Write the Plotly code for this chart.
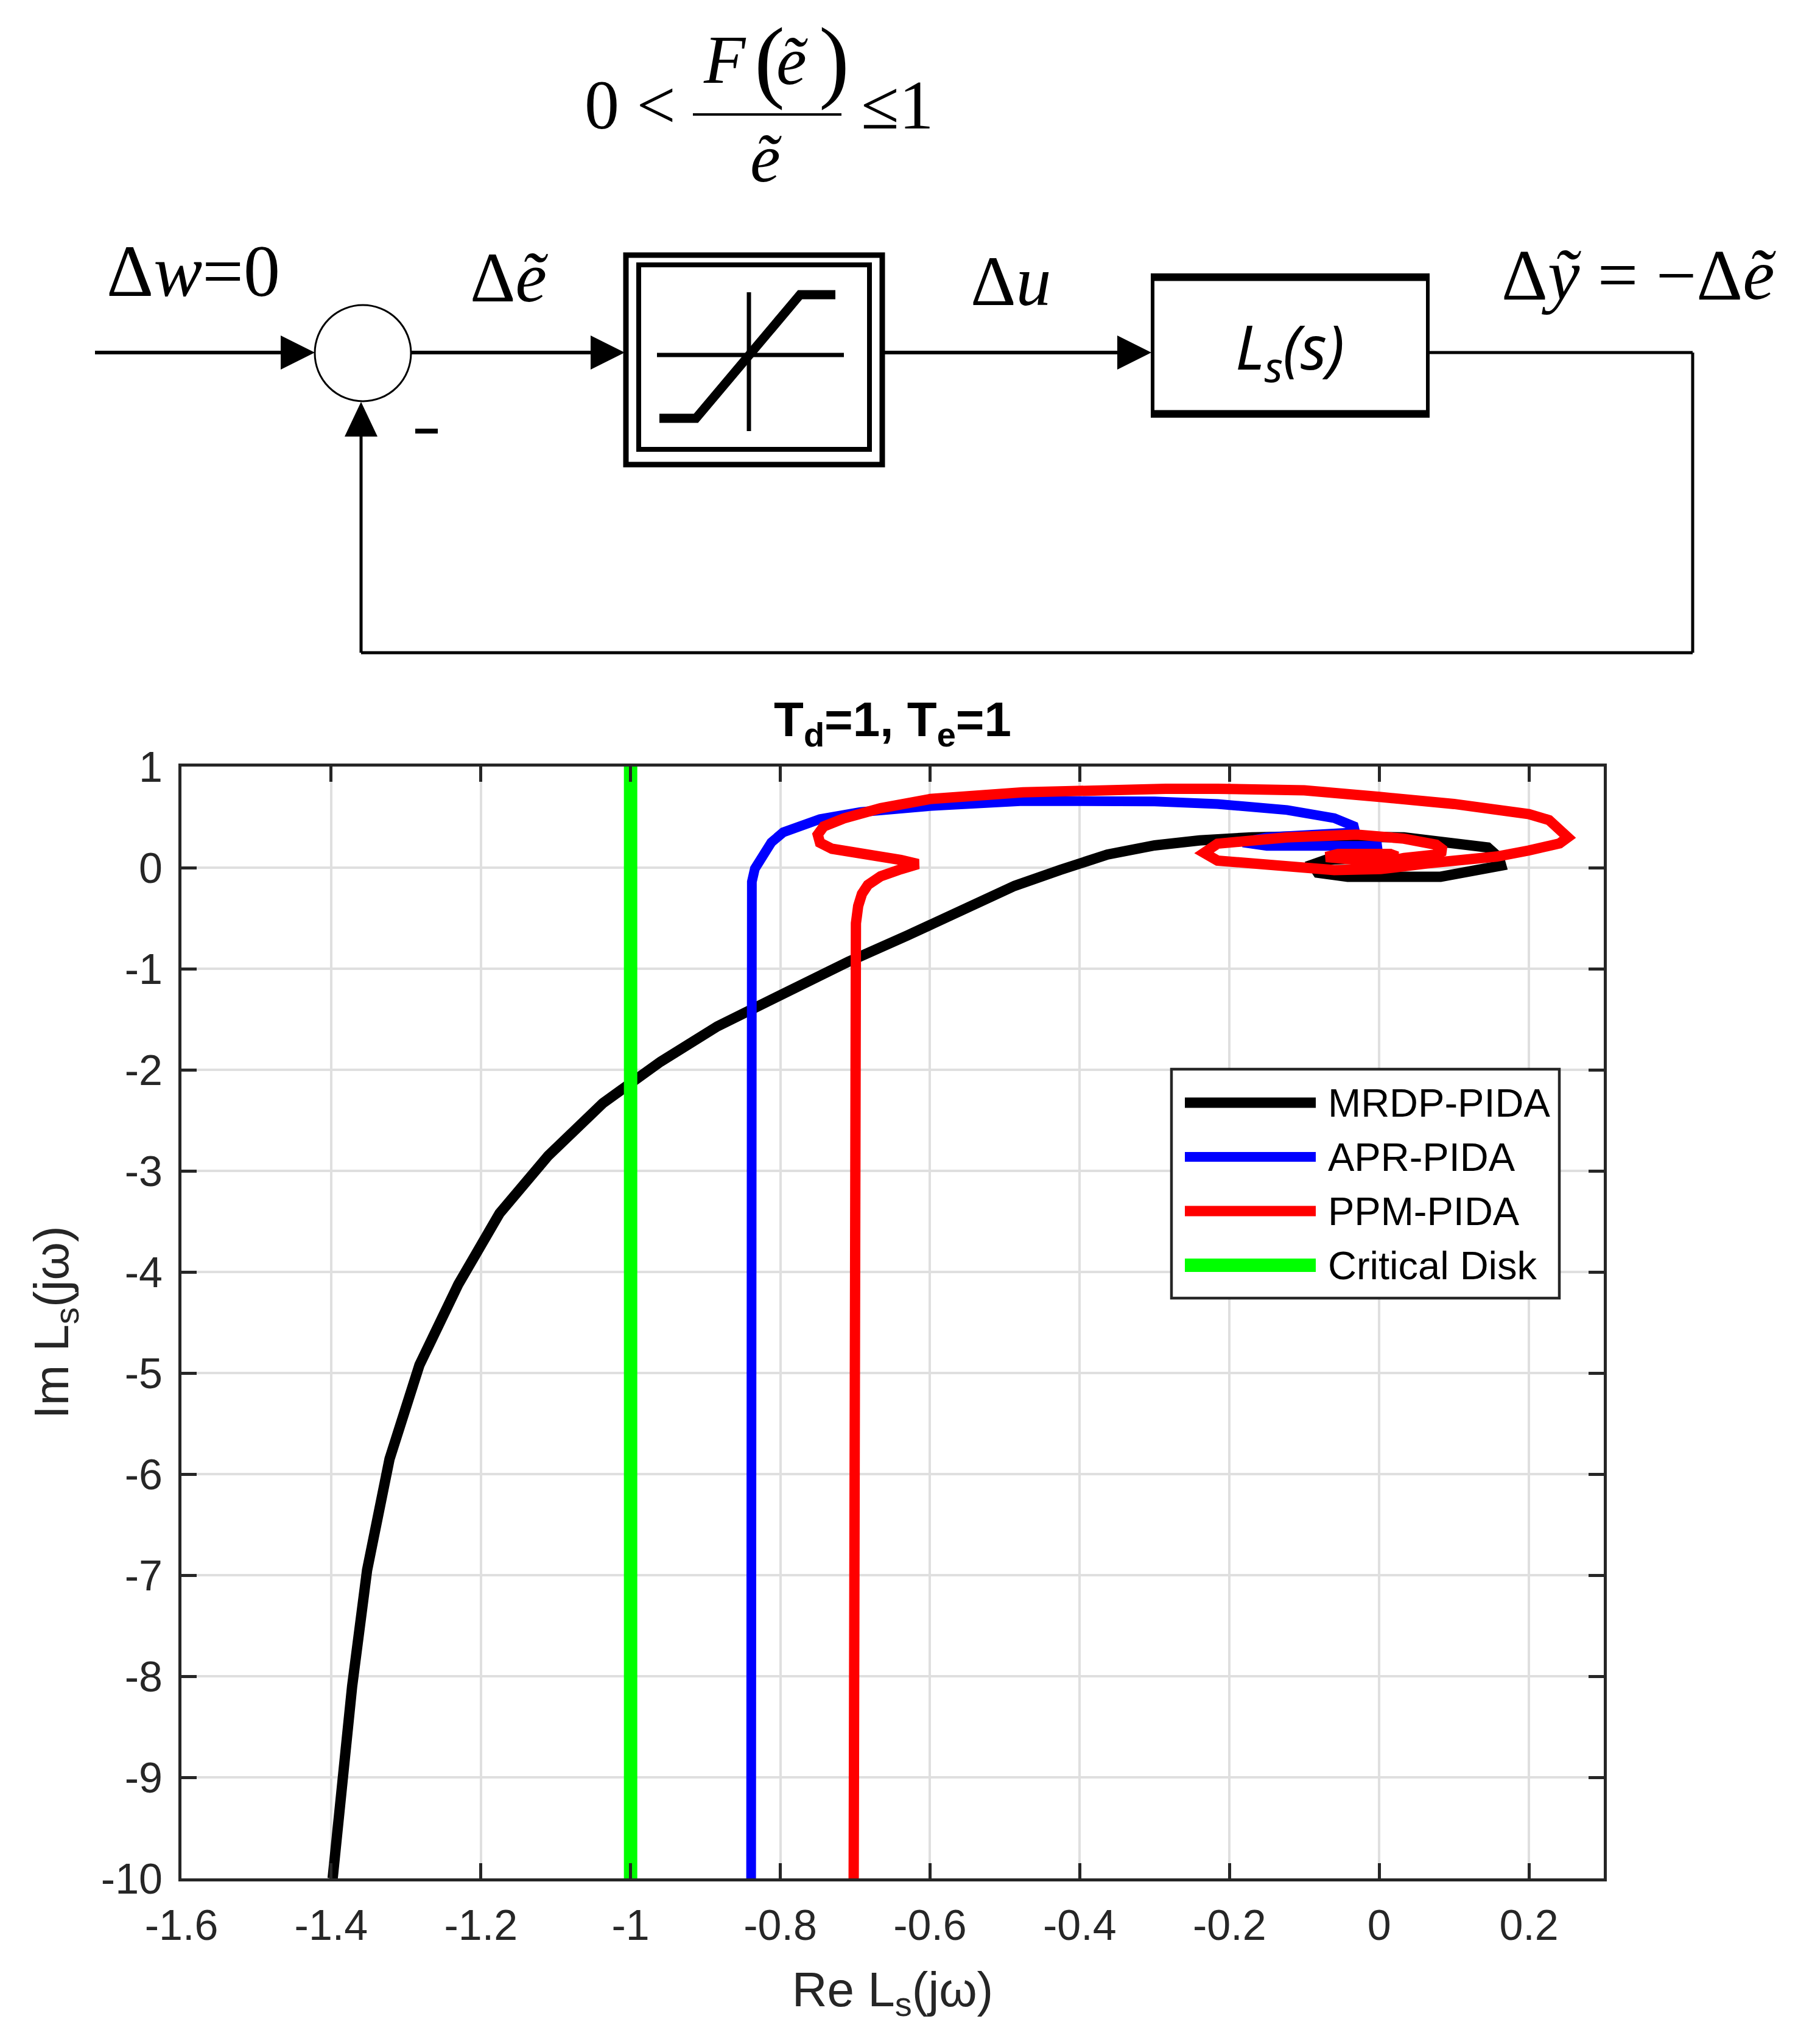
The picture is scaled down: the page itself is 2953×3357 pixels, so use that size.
import plotly.graph_objects as go

# Nyquist curves of L_s(jw) (Re, Im)
re_mrdp = [-1.398, -1.386, -1.372, -1.352, -1.322, -1.282, -1.230, -1.175, -1.110, -1.037,
           -0.960, -0.884, -0.800, -0.709, -0.630, -0.557, -0.487, -0.425, -0.363, -0.300,
           -0.240, -0.170, -0.100, 0.033, 0.145, 0.160, 0.163, 0.082, -0.042, -0.082,
           -0.089, -0.070, -0.020, 0.020, 0.030, 0.000]
im_mrdp = [-10.0, -9.0, -8.1, -6.95, -5.85, -4.92, -4.12, -3.42, -2.85, -2.33,
           -1.92, -1.57, -1.25, -0.93, -0.67, -0.42, -0.18, -0.02, 0.13, 0.22,
           0.27, 0.30, 0.31, 0.30, 0.20, 0.10, 0.02, -0.09, -0.09, -0.05,
           0.03, 0.08, 0.09, 0.07, 0.04, 0.02]

re_apr = [-0.839, -0.839, -0.839, -0.838, -0.834, -0.823, -0.812, -0.796, -0.774, -0.747,
          -0.693, -0.600, -0.476, -0.380, -0.300, -0.216, -0.123, -0.060, -0.034, -0.032,
          -0.080, -0.150, -0.182, -0.150, -0.080, -0.020, 0.003, -0.010, -0.050, -0.040,
          -0.020]
im_apr = [-10.0, -0.80, -0.32, -0.14, -0.01, 0.11, 0.25, 0.35, 0.41, 0.48,
          0.55, 0.61, 0.66, 0.665, 0.655, 0.63, 0.57, 0.49, 0.41, 0.35,
          0.325, 0.30, 0.25, 0.215, 0.215, 0.225, 0.215, 0.19, 0.18, 0.14,
          0.12]

re_ppm = [-0.702, -0.701, -0.700, -0.699, -0.696, -0.691, -0.683, -0.666, -0.639, -0.616,
          -0.639, -0.693, -0.731, -0.747, -0.750, -0.742, -0.715, -0.666, -0.600, -0.476,
          -0.380, -0.285, -0.216, -0.100, 0.000, 0.100, 0.200, 0.227, 0.252, 0.241,
          0.200, 0.157, 0.064, 0.002, -0.060, -0.138, -0.216, -0.234, -0.216, -0.123,
          -0.030, 0.033, 0.076, 0.087, 0.073, 0.033, 0.020, -0.020, -0.060, -0.071,
          -0.055, -0.020, 0.015, 0.024, 0.005, -0.030, -0.055, -0.050, -0.020, 0.005,
          0.000, -0.030, -0.040, -0.025, -0.010, -0.015, -0.030, -0.025, -0.020]
im_ppm = [-10.0, -2.0, -0.82, -0.55, -0.38, -0.26, -0.17, -0.085, -0.015, 0.036,
          0.076, 0.127, 0.187, 0.247, 0.327, 0.408, 0.488, 0.588, 0.679, 0.745,
          0.772, 0.78, 0.78, 0.765, 0.70, 0.63, 0.53, 0.47, 0.30, 0.24,
          0.17, 0.11, 0.042, -0.014, -0.024, 0.016, 0.07, 0.147, 0.237, 0.30,
          0.327, 0.287, 0.227, 0.167, 0.127, 0.096, 0.075, 0.07, 0.08, 0.105,
          0.135, 0.145, 0.135, 0.11, 0.088, 0.085, 0.10, 0.125, 0.13, 0.12,
          0.10, 0.098, 0.11, 0.118, 0.112, 0.10, 0.104, 0.112, 0.108]

re_crit = [-1.0, -1.0]
im_crit = [-10.0, 1.0]

series_re = [re_mrdp, re_apr, re_ppm, re_crit]
series_im = [im_mrdp, im_apr, im_ppm, im_crit]
series_names = ["MRDP-PIDA", "APR-PIDA", "PPM-PIDA", "Critical Disk"]
series_colors = ["#000000", "#0000ff", "#ff0000", "#00ff00"]
series_widths = [17, 16, 17, 22]

x_ticks = [-1.6, -1.4, -1.2, -1.0, -0.8, -0.6, -0.4, -0.2, 0.0, 0.2]
x_tick_labels = ["-1.6", "-1.4", "-1.2", "-1", "-0.8", "-0.6", "-0.4", "-0.2", "0", "0.2"]
y_ticks = [-10, -9, -8, -7, -6, -5, -4, -3, -2, -1, 0, 1]
y_tick_labels = ["-10", "-9", "-8", "-7", "-6", "-5", "-4", "-3", "-2", "-1", "0", "1"]

# page is 2953x3357; the html body has an 8px margin, so the figure sits at (8, 8)
PAGE_W, PAGE_H, BODY = 2953, 3357, 8
W, H = PAGE_W - 2 * BODY, PAGE_H - 2 * BODY
# plot area in page pixels
PLOT_L, PLOT_R, PLOT_T, PLOT_B = 298, 2634, 1259, 3085
AX = "#262626"
SERIF = "Liberation Serif"
SANS = "Liberation Sans"


def px(x):
    return (x - PLOT_L) / (PLOT_R - PLOT_L)


def py(y):
    return (PLOT_B - y) / (PLOT_B - PLOT_T)


shapes = []
annotations = []


def line(x0, y0, x1, y1, w, color="black"):
    shapes.append(dict(type="line", xref="paper", yref="paper",
                       x0=px(x0), y0=py(y0), x1=px(x1), y1=py(y1),
                       line=dict(color=color, width=w)))


def rect(x0, y0, x1, y1, w, fill="rgba(0,0,0,0)", color="black"):
    shapes.append(dict(type="rect", xref="paper", yref="paper",
                       x0=px(x0), y0=py(y0), x1=px(x1), y1=py(y1),
                       line=dict(color=color, width=w), fillcolor=fill))


def path(points, w=0, fill="rgba(0,0,0,0)", close=False):
    d = "M" + " L".join(f"{px(a):.5f},{py(b):.5f}" for a, b in points)
    if close:
        d += " Z"
    shapes.append(dict(type="path", xref="paper", yref="paper", path=d,
                       line=dict(color="black", width=w), fillcolor=fill))


def arrow_right(tip_x, y, length=56, half=28):
    path([(tip_x, y), (tip_x - length, y - half), (tip_x - length, y + half)], fill="black", close=True)


def arrow_up(x, tip_y, length=57, half=27):
    path([(x, tip_y), (x - half, tip_y + length), (x + half, tip_y + length)], fill="black", close=True)


def text(s, x, y, size, family=SERIF, anchor="center", color="black"):
    annotations.append(dict(text=s, xref="paper", yref="paper", x=px(x), y=py(y),
                            xanchor=anchor, yanchor="middle", showarrow=False,
                            font=dict(family=family, size=size, color=color)))


# ---- block diagram above the chart ----
line(156, 579, 470, 579, 6)
arrow_right(517, 579)
shapes.append(dict(type="circle", xref="paper", yref="paper",
                   x0=px(517), x1=px(675), y0=py(501), y1=py(659),
                   line=dict(color="black", width=3)))
line(675, 579, 980, 579, 6)
arrow_right(1026, 579)

rect(1028, 419, 1449, 763, 9)
rect(1049, 435, 1428, 738, 8)
line(1079, 583, 1386, 583, 7)
line(1230, 480, 1230, 708, 7)
path([(1083, 687), (1143, 687), (1314, 484), (1372, 484)], w=15)

line(1453, 579, 1840, 579, 6)
arrow_right(1891, 579)
rect(1893, 452, 2345, 683, 6)
line(1893, 456, 2345, 456, 11)
line(1893, 679, 2345, 679, 11)

line(2345, 579, 2780, 579, 5)
line(2780, 579, 2780, 1072, 5)
line(2780, 1072, 593, 1072, 5)
line(593, 1072, 593, 712, 5)
arrow_up(593, 660)
line(682, 708, 719, 708, 8)

text("Δ<i>w</i>=0", 317, 446, 120)
text("Δ<i>ẽ</i>", 836, 456, 116)
text("Δ<i>u</i>", 1660, 462, 116)
text("Δ<i>ỹ</i> = −Δ<i>ẽ</i>", 2691, 453, 118)
text("<i>L<sub>s</sub>(s)</i>", 2118, 574, 100, family="Noto Sans")

# inequality 0 < F(e)/e <= 1
text("0 <", 1035, 172, 114)
line(1138, 188, 1382, 188, 4)
text("<i>F</i>", 1190, 98, 112)
text("(", 1264, 98, 150)
text("<i>ẽ</i>", 1301, 100, 112)
text(")", 1370, 98, 150)
text("<i>ẽ</i>", 1258, 260, 112)
text("≤1", 1474, 172, 114)

# ---- legend drawn MATLAB style, with long line samples ----
rect(1924, 1756, 2561, 2132, 4.5, fill="white", color=AX)
legend_rows = [1811, 1900, 1989, 2078]
for name, color, width, yrow in zip(series_names, series_colors, series_widths, legend_rows):
    line(1946, yrow, 2161, yrow, width, color=color)
    text(name, 2179, yrow, 65, family=SANS, anchor="left")

# title
annotations.append(dict(text="<b>T<sub>d</sub>=1, T<sub>e</sub>=1</b>", xref="paper", yref="paper",
                        x=0.5, y=py(1240), xanchor="center", yanchor="bottom", showarrow=False,
                        font=dict(family=SANS, size=80, color="black")))

fig = go.Figure()
for re, im, name, color, width in zip(series_re, series_im, series_names, series_colors, series_widths):
    fig.add_trace(go.Scatter(x=re, y=im, mode="lines", name=name,
                             line=dict(color=color, width=width), showlegend=False,
                             hoverinfo="skip"))

axis_common = dict(
    showline=True, linecolor=AX, linewidth=5, mirror="ticks",
    ticks="inside", ticklen=25, tickwidth=5, tickcolor=AX,
    showgrid=True, gridcolor="#dfdfdf", gridwidth=4, zeroline=False,
    tickfont=dict(family=SANS, size=70, color=AX),
)

fig.update_layout(
    width=W, height=H, autosize=False,
    margin=dict(l=PLOT_L - BODY, r=(BODY + W) - PLOT_R, t=PLOT_T - BODY,
                b=(BODY + H) - PLOT_B, autoexpand=False),
    paper_bgcolor="white", plot_bgcolor="white",
    showlegend=False,
    xaxis=dict(range=[-1.6, 0.3], tickvals=x_ticks, ticktext=x_tick_labels,
               ticklabelstandoff=12,
               title=dict(text="Re L<sub>s</sub>(jω)", standoff=40,
                          font=dict(family=SANS, size=80, color=AX)),
               **axis_common),
    yaxis=dict(range=[-10, 1], tickvals=y_ticks, ticktext=y_tick_labels,
               ticklabelstandoff=12,
               title=dict(text="Im L<sub>s</sub>(jω)", standoff=28,
                          font=dict(family=SANS, size=80, color=AX)),
               **axis_common),
    shapes=shapes,
    annotations=annotations,
)

fig.write_html("out.html")
